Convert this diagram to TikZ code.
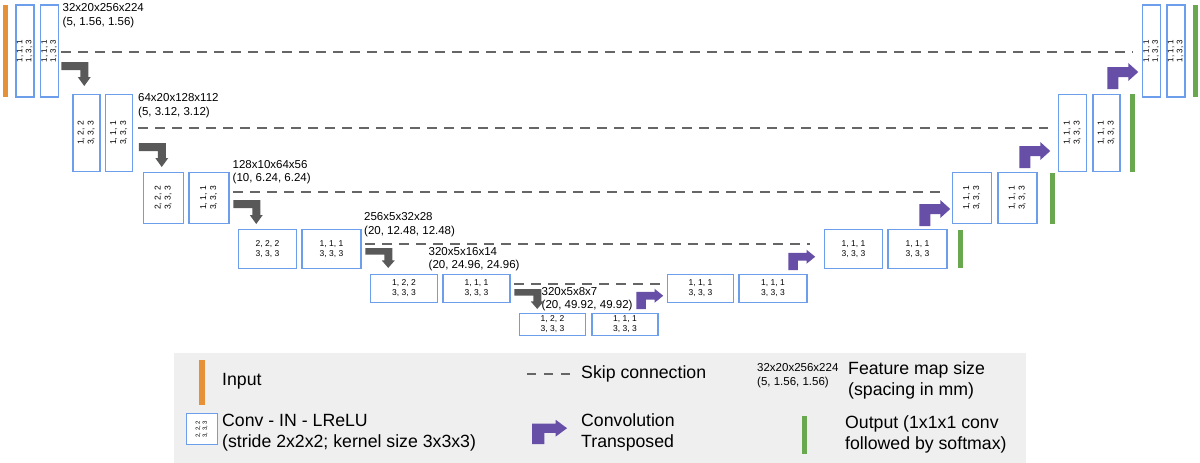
\documentclass[tikz,border=0pt]{standalone}
\usepackage{fontspec}
\setmainfont{Liberation Sans}
\usepackage{graphicx}
\usetikzlibrary{positioning}

\definecolor{boxblue}{HTML}{6D9EEB}
\definecolor{inorange}{HTML}{E69138}
\definecolor{outgreen}{HTML}{6AA84F}
\definecolor{upviolet}{HTML}{674EA7}
\definecolor{arrowgray}{HTML}{595959}
\definecolor{skipgray}{HTML}{666666}
\definecolor{legendgray}{HTML}{EFEFEF}

\newcommand{\vlab}[2]{\rotatebox{90}{\begin{tabular}{@{}c@{}}#1\\#2\end{tabular}}}

\begin{document}
\begin{tikzpicture}[
    x=1pt, y=-1pt,
    convnode/.style={draw=boxblue, line width=1.5pt, fill=white, inner sep=0pt, align=center, font=\fontsize{8.5}{10}\selectfont},
    topnode/.style={convnode, font=\fontsize{8}{9}\selectfont},
    sizelabel/.style={anchor=north west, inner sep=0pt, align=left, font=\fontsize{11.5}{13.5}\selectfont},
    legendtext/.style={anchor=west, inner sep=0pt, align=left, font=\fontsize{17.7}{21}\selectfont},
    inputbar/.style={fill=inorange, inner sep=0pt, minimum width=5.5pt},
    outputbar/.style={fill=outgreen, inner sep=0pt, minimum width=5pt},
    skipline/.style={draw=skipgray, line width=2.8pt, dash pattern=on 10pt off 7pt},
    downarrow/.pic={\fill[arrowgray] (0,0) -- (27,0) -- (27,15) -- (29.5,15) -- (23,24) -- (16.5,15) -- (19,15) -- (19,8) -- (0,8) -- cycle;},
    uparrow/.pic={\fill[upviolet] (0,0) -- (0,-22) -- (21,-22) -- (21,-26) -- (31,-17) -- (21,-8) -- (21,-12) -- (11,-12) -- (11,0) -- cycle;}
    ]
    \useasboundingbox (0,0) rectangle (1200,463);

    %Encoder
    \node[inputbar, minimum height=92pt] (in0) at (5.5,51) {};
    \node[topnode, minimum width=18pt, minimum height=92pt] (e01) at (25,51) {\vlab{1, 1, 1}{1, 3, 3}};
    \node[topnode, minimum width=18pt, minimum height=92pt, right=5pt of e01] (e02) {\vlab{1, 1, 1}{1, 3, 3}};

    \node[convnode, minimum width=27pt, minimum height=77pt] (e11) at (86.5,133) {\vlab{1, 2, 2}{3, 3, 3}};
    \node[convnode, minimum width=27pt, minimum height=77pt, right=4pt of e11] (e12) {\vlab{1, 1, 1}{3, 3, 3}};

    \node[convnode, minimum width=40pt, minimum height=51pt] (e21) at (163.5,198) {\vlab{2, 2, 2}{3, 3, 3}};
    \node[convnode, minimum width=40pt, minimum height=51pt, right=4pt of e21] (e22) {\vlab{1, 1, 1}{3, 3, 3}};

    \node[convnode, minimum width=58pt, minimum height=39pt] (e31) at (267.5,249) {2, 2, 2\\3, 3, 3};
    \node[convnode, minimum width=59pt, minimum height=39pt, right=4pt of e31] (e32) {1, 1, 1\\3, 3, 3};

    \node[convnode, minimum width=67pt, minimum height=28pt] (e41) at (404,288.5) {1, 2, 2\\3, 3, 3};
    \node[convnode, minimum width=67pt, minimum height=28pt, right=4pt of e41] (e42) {1, 1, 1\\3, 3, 3};

    \node[convnode, minimum width=66pt, minimum height=22pt] (e51) at (552.5,324.5) {1, 2, 2\\3, 3, 3};
    \node[convnode, minimum width=66pt, minimum height=22pt, right=5pt of e51] (e52) {1, 1, 1\\3, 3, 3};

    %Decoder
    \node[convnode, minimum width=66pt, minimum height=28pt] (d41) at (700.5,288.5) {1, 1, 1\\3, 3, 3};
    \node[convnode, minimum width=68pt, minimum height=28pt, right=4pt of d41] (d42) {1, 1, 1\\3, 3, 3};

    \node[convnode, minimum width=58pt, minimum height=39pt] (d31) at (853.5,249) {1, 1, 1\\3, 3, 3};
    \node[convnode, minimum width=59pt, minimum height=39pt, right=4pt of d31] (d32) {1, 1, 1\\3, 3, 3};
    \node[outputbar, minimum height=38pt, right=10pt of d32] (o3) {};

    \node[convnode, minimum width=39pt, minimum height=51pt] (d21) at (972,198) {\vlab{1, 1, 1}{3, 3, 3}};
    \node[convnode, minimum width=39pt, minimum height=51pt, right=5pt of d21] (d22) {\vlab{1, 1, 1}{3, 3, 3}};
    \node[outputbar, minimum height=51pt, right=12pt of d22] (o2) {};

    \node[convnode, minimum width=28pt, minimum height=77pt] (d11) at (1072.5,133) {\vlab{1, 1, 1}{3, 3, 3}};
    \node[convnode, minimum width=27pt, minimum height=77pt, right=5pt of d11] (d12) {\vlab{1, 1, 1}{3, 3, 3}};
    \node[outputbar, minimum height=78pt, right=9pt of d12] (o1) {};

    \node[topnode, minimum width=18pt, minimum height=92pt] (d01) at (1151.5,51) {\vlab{1, 1, 1}{1, 3, 3}};
    \node[topnode, minimum width=18pt, minimum height=92pt, right=5pt of d01] (d02) {\vlab{1, 1, 1}{1, 3, 3}};
    \node[outputbar, minimum height=92pt, right=7pt of d02] (o0) {};

    %Sizes
    \node[sizelabel] (f0) at (62.5,3.5) {32x20x256x224\\(5, 1.56, 1.56)};
    \node[sizelabel] (f1) at (138,93.5) {64x20x128x112\\(5, 3.12, 3.12)};
    \node[sizelabel] (f2) at (232.5,160) {128x10x64x56\\(10, 6.24, 6.24)};
    \node[sizelabel] (f3) at (364,212.5) {256x5x32x28\\(20, 12.48, 12.48)};
    \node[sizelabel] (f4) at (428.5,247) {320x5x16x14\\(20, 24.96, 24.96)};
    \node[sizelabel] (f5) at (541.5,287) {320x5x8x7\\(20, 49.92, 49.92)};

    %Skip connections
    \draw[skipline] ([shift={(2,1)}]e02.east) -- ([shift={(-8.5,1)}]d01.west);
    \draw[skipline] ([shift={(5,-5)}]e12.east) -- ([shift={(-9.5,-5)}]d11.west);
    \draw[skipline] ([shift={(3.5,-6)}]e22.east) -- ([shift={(-11.5,-6)}]d21.west);
    \draw[skipline] ([shift={(3.5,-5)}]e32.east) -- ([shift={(-13.5,-5)}]d31.west);
    \draw[skipline] ([shift={(3.5,-4.5)}]e42.east) -- ([shift={(-4.5,-4.5)}]d41.west);

    %Down and up
    \pic at ([shift={(2,11)}]e02.east) {downarrow};
    \pic at ([shift={(5.5,10)}]e12.east) {downarrow};
    \pic at ([shift={(3.5,2)}]e22.east) {downarrow};
    \pic[yscale=.83] at ([shift={(3.5,-1)}]e32.east) {downarrow};
    \pic[yscale=.83] at ([shift={(3.5,0.5)}]e42.east) {downarrow};

    \pic[xscale=.87, yscale=.78] at ([shift={(-30.5,20.5)}]d41.west) {uparrow};
    \pic[xscale=.87, yscale=.78] at ([shift={(-35.5,21)}]d31.west) {uparrow};
    \pic at ([shift={(-32.5,28)}]d21.west) {uparrow};
    \pic at ([shift={(-38.5,35)}]d11.west) {uparrow};
    \pic at ([shift={(-34.5,38)}]d01.west) {uparrow};

    %Legend
    \node[fill=legendgray, inner sep=0pt, minimum width=852pt, minimum height=110pt, anchor=north west] (legend) at (174,353) {};
    \node[inputbar, minimum height=45pt] (kin) at (202,382.5) {};
    \node[legendtext] (tin) at (222,381) {Input};
    \node[convnode, line width=1.1pt, minimum width=31pt, minimum height=31pt, font=\fontsize{6}{7}\selectfont] (kconv) at (202,429) {\vlab{2, 2, 2}{3, 3, 3}};
    \node[legendtext] (tconv) at (222,432.5) {Conv - IN - LReLU\\(stride 2x2x2; kernel size 3x3x3)};

    \coordinate (kskipA) at (527,374);
    \coordinate (kskipB) at (570,374);
    \draw[skipline, line width=2.2pt, dash pattern=on 9pt off 8pt] (kskipA) -- (kskipB);
    \node[legendtext] (tskip) at (581,374) {Skip connection};
    \pic[xscale=1.13, yscale=.93] at (532,444) {uparrow};
    \node[legendtext] (tup) at (581,432.5) {Convolution\\Transposed};

    \node[sizelabel] (ksize) at (757,363.5) {32x20x256x224\\(5, 1.56, 1.56)};
    \node[legendtext] (tsize) at (848,380) {Feature map size\\(spacing in mm)};
    \node[outputbar, minimum height=38pt] (kout) at (804,435) {};
    \node[legendtext] (tout) at (845,434.5) {Output (1x1x1 conv\\followed by softmax)};

\end{tikzpicture}
\end{document}
